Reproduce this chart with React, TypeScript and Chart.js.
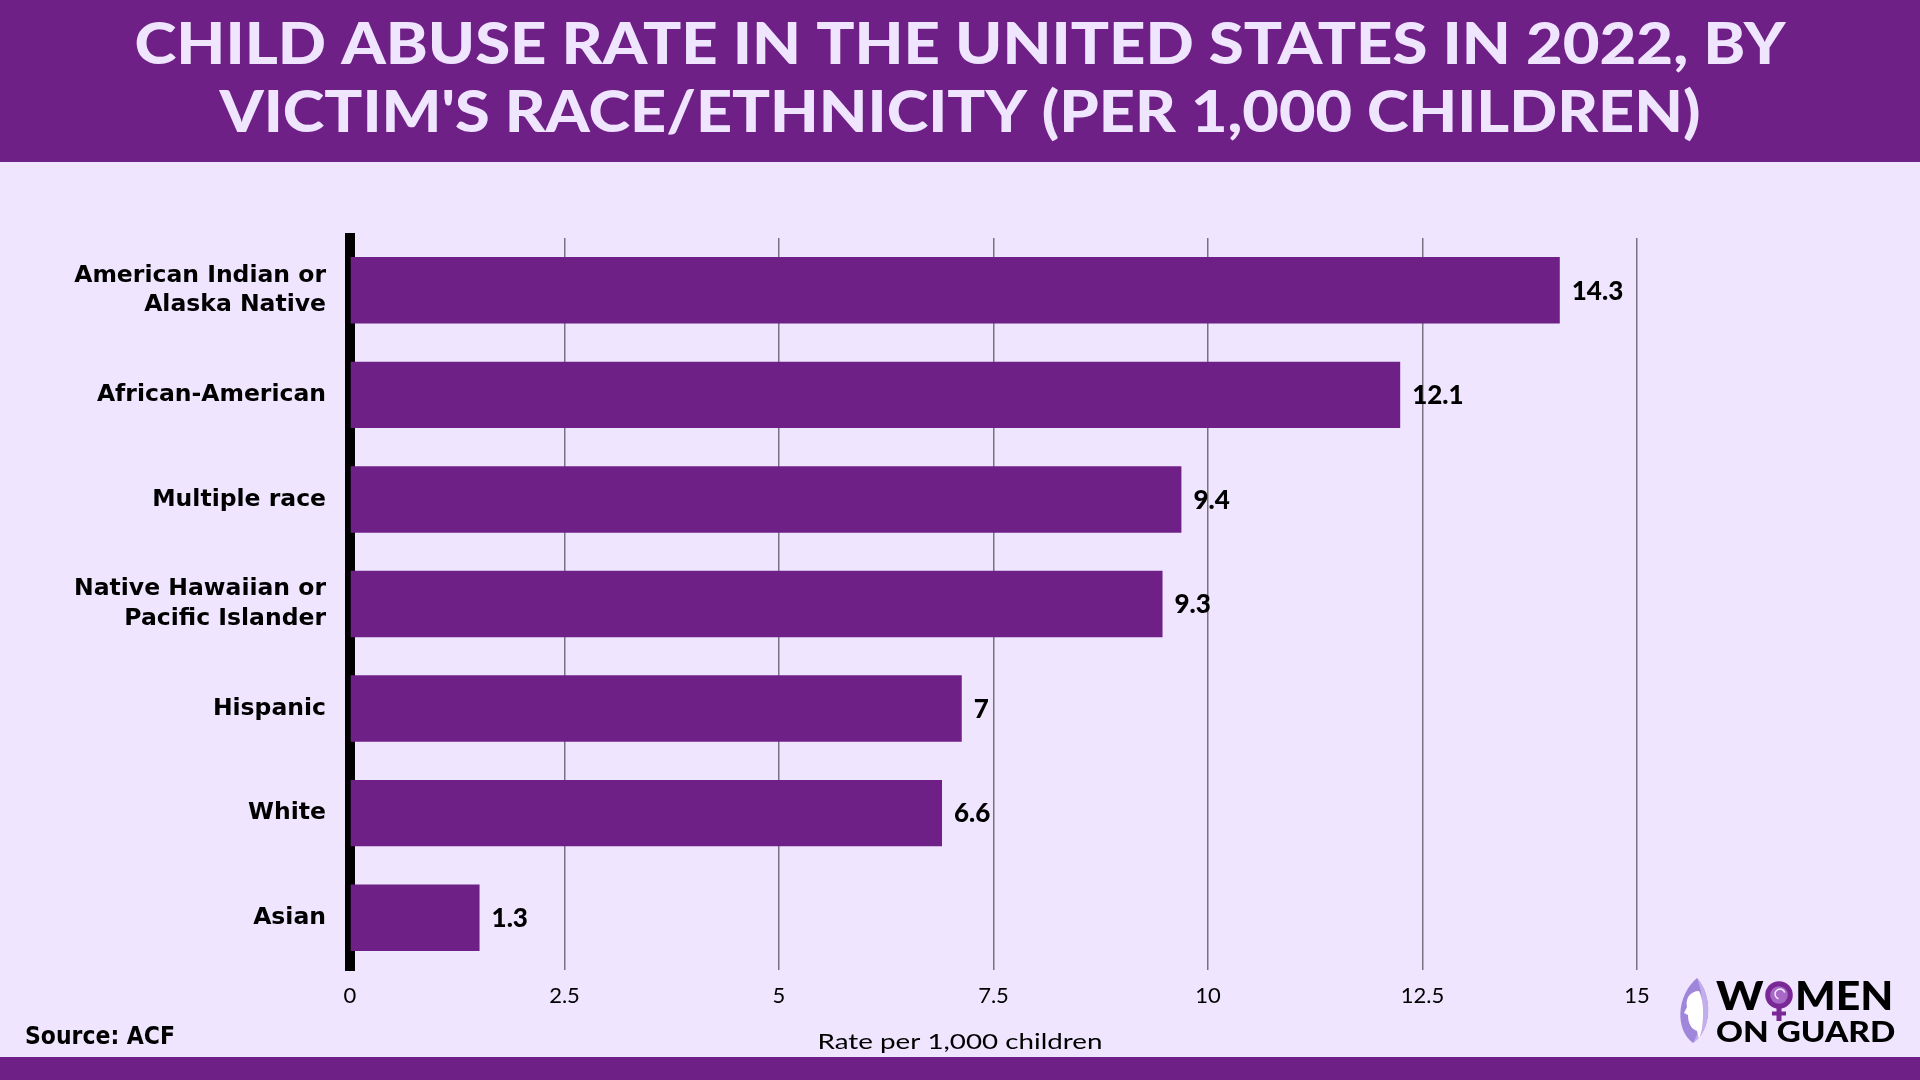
import React, { useEffect, useRef } from "react";
import { Chart, registerables } from "chart.js";

Chart.register(...registerables);

// ---------- data ----------
const categories: (string | string[])[] = [
  ["American Indian or", "Alaska Native"],
  "African-American",
  "Multiple race",
  ["Native Hawaiian or", "Pacific Islander"],
  "Hispanic",
  "White",
  "Asian",
];
// bar lengths as drawn in the picture
const barLengths = [14.1, 12.24, 9.69, 9.47, 7.13, 6.9, 1.51];
// values printed next to the bars
const valueLabels = ["14.3", "12.1", "9.4", "9.3", "7", "6.6", "1.3"];
const xTicks = [0, 2.5, 5, 7.5, 10, 12.5, 15];
const xTickLabels = ["0", "2.5", "5", "7.5", "10", "12.5", "15"];
const titleLines = [
  "CHILD ABUSE RATE IN THE UNITED STATES IN 2022, BY",
  "VICTIM'S RACE/ETHNICITY (PER 1,000 CHILDREN)",
];
const xAxisTitle = "Rate per 1,000 children";
const sourceText = "Source: ACF";
const logoTop = "WOMEN";
const logoBottom = "ON GUARD";

// ---------- styles ----------
const PURPLE = "#6f2086";
const BG = "#efe5fe";
const W = 1920;
const H = 1080;

function drawFitted(
  ctx: CanvasRenderingContext2D,
  text: string,
  x: number,
  y: number,
  width: number,
  font: string,
  color: string,
  align: CanvasTextAlign = "left"
) {
  ctx.save();
  ctx.font = font;
  ctx.fillStyle = color;
  ctx.textAlign = align;
  ctx.textBaseline = "alphabetic";
  const w = ctx.measureText(text).width || 1;
  ctx.translate(x, y);
  ctx.scale(width / w, 1);
  ctx.fillText(text, 0, 0);
  ctx.restore();
}

function drawLogo(ctx: CanvasRenderingContext2D) {
  ctx.save();
  // leaf
  ctx.beginPath();
  ctx.moveTo(1697, 978);
  ctx.bezierCurveTo(1713, 996, 1712, 1030, 1693, 1043);
  ctx.bezierCurveTo(1675, 1030, 1676, 996, 1697, 978);
  ctx.closePath();
  ctx.fillStyle = "#9f86da";
  ctx.fill();
  // lighter right side
  ctx.beginPath();
  ctx.moveTo(1697, 978);
  ctx.bezierCurveTo(1713, 996, 1712, 1030, 1693, 1043);
  ctx.bezierCurveTo(1704, 1025, 1705, 998, 1697, 978);
  ctx.closePath();
  ctx.fillStyle = "#c2aeea";
  ctx.fill();
  // white face profile
  ctx.beginPath();
  ctx.moveTo(1699, 991);
  ctx.bezierCurveTo(1690, 991, 1685, 999, 1687, 1007);
  ctx.lineTo(1684, 1013);
  ctx.lineTo(1688, 1015);
  ctx.bezierCurveTo(1688, 1023, 1691, 1029, 1697, 1031);
  ctx.lineTo(1699, 1039);
  ctx.bezierCurveTo(1704, 1028, 1705, 1002, 1699, 991);
  ctx.closePath();
  ctx.fillStyle = "#ffffff";
  ctx.fill();

  // WOMEN with female symbol as O
  drawFitted(ctx, logoTop.slice(0, 1), 1716, 1010, 47.6, "900 40px Lato", "#000");
  drawFitted(ctx, logoTop.slice(2), 1795, 1010, 98.3, "900 40px Lato", "#000");
  ctx.fillStyle = "#7a2895";
  ctx.beginPath();
  ctx.arc(1779, 995, 13.8, 0, Math.PI * 2);
  ctx.fill();
  ctx.fillRect(1776.5, 1006, 5, 15);
  ctx.fillRect(1772, 1011.5, 14, 4);
  ctx.fillStyle = "#a869c6";
  ctx.beginPath();
  ctx.arc(1779, 995, 8.8, 0, Math.PI * 2);
  ctx.fill();
  ctx.strokeStyle = "#f4ecff";
  ctx.lineWidth = 1.5;
  ctx.beginPath();
  ctx.arc(1780, 994, 5, Math.PI * 0.6, Math.PI * 1.9);
  ctx.stroke();

  drawFitted(ctx, logoBottom, 1716, 1042, 179.3, "900 28px Lato", "#000");
  ctx.restore();
}

const decorPlugin = {
  id: "decor",
  beforeDraw(chart: any) {
    const ctx: CanvasRenderingContext2D = chart.ctx;
    ctx.save();
    ctx.fillStyle = BG;
    ctx.fillRect(0, 0, W, H);
    ctx.fillStyle = PURPLE;
    ctx.fillRect(0, 0, W, 162);
    ctx.fillRect(0, 1057, W, H - 1057);
    drawFitted(ctx, titleLines[0], 960, 64, 1651, "900 58px Lato", BG, "center");
    drawFitted(ctx, titleLines[1], 960, 132, 1481, "900 58px Lato", BG, "center");
    ctx.restore();
  },
  afterDatasetsDraw(chart: any) {
    const ctx: CanvasRenderingContext2D = chart.ctx;
    const meta = chart.getDatasetMeta(0);
    ctx.save();
    ctx.font = "900 26px Lato";
    ctx.fillStyle = "#000";
    ctx.textAlign = "left";
    ctx.textBaseline = "alphabetic";
    meta.data.forEach((bar: any, i: number) => {
      ctx.fillText(valueLabels[i], bar.x + 12, bar.y + 9.3);
    });
    ctx.restore();
  },
  afterDraw(chart: any) {
    const ctx: CanvasRenderingContext2D = chart.ctx;
    ctx.save();
    drawFitted(ctx, sourceText, 25, 1044, 150, "bold 24px 'DejaVu Sans'", "#000");
    drawFitted(ctx, xAxisTitle, 960, 1049, 285, "400 22px Lato", "#000", "center");
    drawLogo(ctx);
    ctx.restore();
  },
};

export default function App() {
  const canvasRef = useRef<HTMLCanvasElement | null>(null);

  useEffect(() => {
    const canvas = canvasRef.current;
    if (!canvas) return;
    const chart = new Chart(canvas, {
      type: "bar",
      data: {
        labels: categories,
        datasets: [
          {
            data: barLengths,
            backgroundColor: PURPLE,
            borderWidth: 0,
            barPercentage: 0.635,
            categoryPercentage: 1,
          },
        ],
      },
      options: {
        indexAxis: "y",
        animation: false,
        responsive: false,
        maintainAspectRatio: false,
        devicePixelRatio: 1,
        layout: { padding: { top: 238, right: 283, bottom: 0, left: 0 } },
        plugins: {
          legend: { display: false },
          tooltip: { enabled: false },
          title: { display: false },
        },
        scales: {
          x: {
            type: "linear",
            min: xTicks[0],
            max: xTicks[xTicks.length - 1],
            afterBuildTicks: (scale: any) => {
              scale.ticks = xTicks.map((v) => ({ value: v }));
            },
            afterFit: (scale: any) => {
              scale.height = 110;
            },
            ticks: {
              color: "#000",
              font: { family: "Lato", size: 22, weight: "400" },
              padding: 13,
              maxRotation: 0,
              autoSkip: false,
              callback: (v: any) => {
                const i = xTicks.indexOf(Number(v));
                return i >= 0 ? xTickLabels[i] : "";
              },
            },
            grid: { color: "#7a7280", lineWidth: 1.5, drawTicks: false },
            border: { display: false },
          },
          y: {
            type: "category",
            z: 1,
            afterFit: (scale: any) => {
              scale.width = 350;
            },
            ticks: {
              color: "#000",
              font: { family: "'DejaVu Sans'", size: 23.5, weight: "bold", lineHeight: 1.25 },
              padding: 24,
              autoSkip: false,
            },
            grid: { display: false, drawTicks: false },
            border: { display: true, color: "#000", width: 10 },
          },
        },
      },
      plugins: [decorPlugin],
    } as any);
    return () => chart.destroy();
  }, []);

  return (
    <div style={{ position: "absolute", left: 0, top: 0, width: W, height: H, overflow: "hidden" }}>
      <canvas ref={canvasRef} width={W} height={H} style={{ display: "block", width: W, height: H }} />
    </div>
  );
}
